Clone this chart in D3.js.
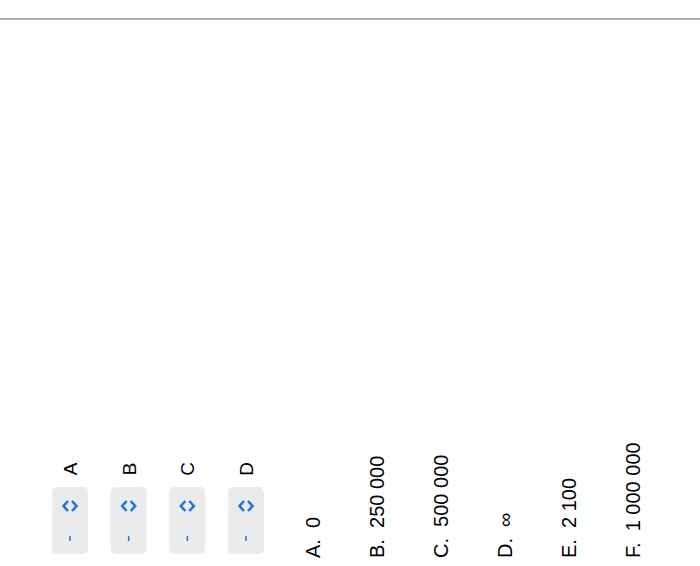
<!DOCTYPE html>
<html><head><meta charset="utf-8">
<script src="https://cdn.jsdelivr.net/npm/d3@7"></script>
<style>body{margin:0;background:#fff}</style>
</head><body>
<div id="chart"></div>
<script>
const buttons = ["A", "B", "C", "D"]
const labels = ["A.", "B.", "C.", "D.", "E.", "F."]
const values = ["0", "250 000", "500 000", "\u221E", "2 100", "1 000 000"]

const svg = d3.select("#chart").append("svg")
    .attr("width", 700).attr("height", 566)

svg.append("line")
    .attr("x1", 0).attr("x2", 700).attr("y1", 19).attr("y2", 19)
    .attr("stroke", "#b0b0b0").attr("stroke-width", 2)

const xb = d3.scalePoint().domain(buttons).range([70, 246])

const g = svg.selectAll("g.btn").data(buttons).enter()
    .append("g").attr("class", "btn")
    .attr("transform", d => `translate(${xb(d)},0)`)

g.append("text")
    .attr("transform", "translate(7,469) rotate(-90)")
    .attr("text-anchor", "middle")
    .style("font", "19px 'Liberation Sans', Arial, sans-serif")
    .text(d => d)

g.append("rect")
    .attr("x", -18).attr("y", 487).attr("width", 36).attr("height", 67)
    .attr("rx", 5).attr("fill", "#ebebeb")

g.append("path")
    .attr("d", "M-2,501 L-6.5,506 L-2,511 M2,501 L6.5,506 L2,511")
    .attr("fill", "none").attr("stroke", "#1a73e8").attr("stroke-width", 2.5)

g.append("line")
    .attr("x1", 0).attr("x2", 0).attr("y1", 536).attr("y2", 541)
    .attr("stroke", "#1a73e8").attr("stroke-width", 1.5)

const xl = d3.scalePoint().domain(labels).range([313, 633])

svg.selectAll("text.lab").data(labels).enter()
    .append("text").attr("class", "lab")
    .attr("transform", d => `translate(${xl(d) + 7},558) rotate(-90)`)
    .style("font", "20px 'Liberation Sans', Arial, sans-serif")
    .text((d, i) => d + "  " + values[i])
    .attr("xml:space", "preserve")
</script>
</body></html>
